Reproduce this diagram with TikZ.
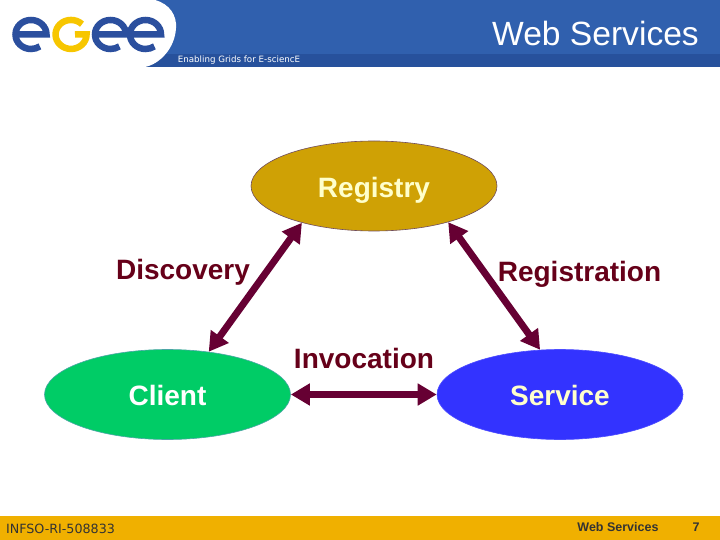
\documentclass[tikz,border=0pt]{standalone}
\usepackage{fontspec}
\setmainfont{Liberation Sans}
\newfontfamily\footfont{DejaVu Sans}
\usetikzlibrary{shapes.geometric,arrows.meta}
\definecolor{headblue}{HTML}{3060AE}
\definecolor{stripblue}{HTML}{27519C}
\definecolor{footgold}{HTML}{F0B000}
\definecolor{logoblue}{HTML}{2B4F9E}
\definecolor{logoyellow}{HTML}{F7C600}
\definecolor{linkred}{HTML}{660033}
\definecolor{labelred}{HTML}{660019}
\definecolor{paleyellow}{HTML}{FFFFCC}
\newcommand{\sizept}[1]{\fontsize{#1}{#1}\selectfont}
\tikzset{
  blob/.style={ellipse,draw=#1,line width=0.6pt,minimum width=246pt,minimum height=90pt,inner sep=0pt},
  blobtext/.style={font=\sizept{28}\bfseries,anchor=base,inner sep=0pt},
  linklabel/.style={font=\sizept{28}\bfseries,text=labelred,anchor=base,inner sep=0pt},
  link/.style={linkred,line width=7pt,{Stealth[length=19pt,width=21pt,inset=0pt]}-{Stealth[length=19pt,width=21pt,inset=0pt]}},
  logoline/.style={line width=6.5pt}
}
\begin{document}
\begin{tikzpicture}[x=1pt,y=-1pt]
        \useasboundingbox (0,0) rectangle (720,540);
        % header and footer
        \fill[headblue] (0,0) rectangle (720,67);
        \fill[stripblue] (140,54) rectangle (720,67);
        \fill[white] (0,0) -- (155,0) .. controls (170,4) and (177,16) .. (176,28) .. controls (175,48) and (160,64) .. (145,67) -- (0,67) -- cycle;
        \fill[footgold] (0,516) rectangle (720,540);
        % logo
        \foreach \cx in {31,110.5,145.5} {
            \draw[logoblue,logoline] (\cx-15,34.5) -- (\cx+15.5,34.5) arc[x radius=15.5,y radius=14.5,start angle=0,end angle=-180]
                arc[x radius=15.5,y radius=14.5,start angle=-180,end angle=-305];
        }
        \draw[logoyellow,logoline] (71+11,24.2) arc[x radius=15.5,y radius=14.5,start angle=-45,end angle=-360] -- (75,34.5);
        % texts in the bars
        \node[text=white,font=\sizept{33.6},inner sep=0pt] (title) at (595.5,33) {Web Services};
        \node[text=white,font=\footfont\sizept{8.7},inner sep=0pt] (slogan) at (239,60.5) {Enabling Grids for E-sciencE};
        \node[text=black!80,font=\footfont\sizept{12.7},inner sep=0pt] (project) at (60.5,528.5) {INFSO-RI-508833};
        \node[text=black!80,font=\sizept{12.5}\bfseries,inner sep=0pt] (topic) at (618,527.5) {Web Services};
        \node[text=black!80,font=\sizept{12.5}\bfseries,inner sep=0pt] (page) at (696,527.5) {7};
        % ellipses
        \node[blob={black!50!linkred!70!white},fill={rgb,255:red,207;green,161;blue,5}] (registry) at (374,186) {};
        \node[blob={teal!70!white},fill={rgb,255:red,0;green,204;blue,102}] (client) at (167.5,394.5) {};
        \node[blob={blue!70!white},fill={rgb,255:red,51;green,51;blue,255}] (service) at (560,394.5) {};
        \node[blobtext,text=paleyellow] (registrytext) at (374,197) {Registry};
        \node[blobtext,text=white] (clienttext) at (167.5,405) {Client};
        \node[blobtext,text=paleyellow] (servicetext) at (560,405) {Service};
        % arrows
        \draw[link] (client.46) -- (registry.207);
        \draw[link] (registry.334) -- (service.114);
        \draw[link] (client.east) -- (service.west);
        \node[linklabel] (discovery) at (183,279.5) {Discovery};
        \node[linklabel] (registration) at (579.5,281) {Registration};
        \node[linklabel] (invocation) at (364,368.5) {Invocation};
    \end{tikzpicture}
\end{document}
